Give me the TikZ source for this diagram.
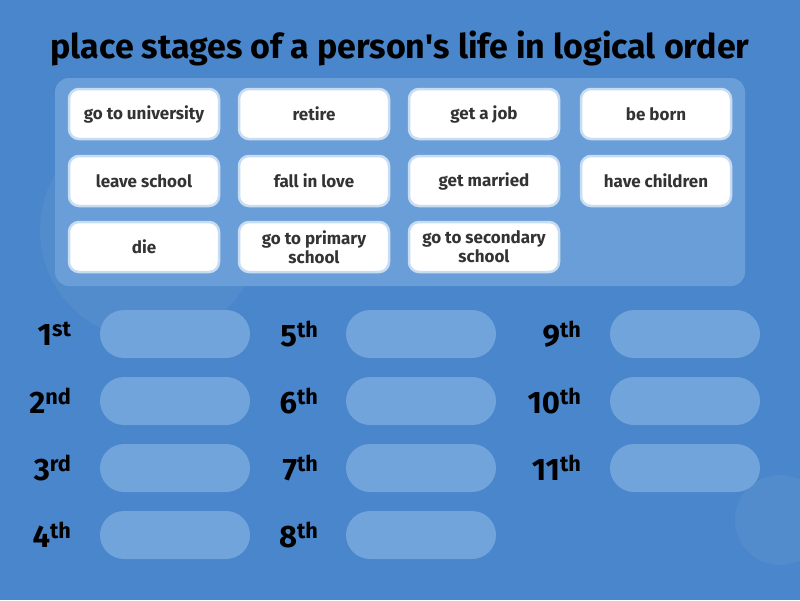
\documentclass[tikz,border=0pt]{standalone}
\usepackage{fontspec}
\setmainfont{Fira Sans}
\definecolor{bg}{HTML}{4A86CB}
\definecolor{panel}{HTML}{6A9ED9}
\definecolor{slot}{HTML}{72A4DC}
\definecolor{cardedge}{HTML}{C9DDF2}
\definecolor{txt}{HTML}{333333}
\tikzset{
 card/.style={draw=cardedge, line width=2.5pt, fill=white, rounded corners=10pt, minimum width=150pt, minimum height=50pt, align=center, font=\fontsize{17}{19}\selectfont\bfseries, text=txt},
 slotbox/.style={fill=slot, rounded corners=24pt, minimum width=150pt, minimum height=48pt},
 num/.style={anchor=east, font=\fontsize{31}{33}\selectfont\bfseries, text=black}
}
\begin{document}
\begin{tikzpicture}[x=1pt,y=-1pt]
\fill[bg] (0,0) rectangle (800,600);
\useasboundingbox (0,0) rectangle (800,600);
\fill[white,opacity=0.05] (150,230) circle (110);
\fill[white,opacity=0.05] (780,520) circle (45);
\node[font=\fontsize{34}{36}\selectfont\bfseries, text=black] (title) at (400,48) {place stages of a person\textquotesingle s life in logical order};
\fill[panel, rounded corners=14pt] (55,78) rectangle (745,286);
\node[card] (c1) at (144,114) {go to university};
\node[card] (c2) at (314,114) {retire};
\node[card] (c3) at (484,114) {get a job};
\node[card] (c4) at (656,114) {be born};
\node[card] (c5) at (144,181) {leave school};
\node[card] (c6) at (314,181) {fall in love};
\node[card] (c7) at (484,181) {get married};
\node[card] (c8) at (656,181) {have children};
\node[card] (c9) at (144,247) {die};
\node[card] (c10) at (314,247) {go to primary\\school};
\node[card] (c11) at (484,247) {go to secondary\\school};
\foreach \x/\lx/\a/\b/\c/\d/\sa/\sb/\sc/\sd in {175/75/1/2/3/4/st/nd/rd/th, 421/322/5/6/7/8/th/th/th/th}{
 \foreach \n/\s/\y in {\a/\sa/334,\b/\sb/401,\c/\sc/468,\d/\sd/535}{
  \node[slotbox] (s\n) at (\x,\y) {};
  \node[num] (n\n) at (\lx,\y) {\n\textsuperscript{\s}};
 }}
\foreach \n/\y in {9/334,10/401,11/468}{
  \node[slotbox] (s\n) at (685,\y) {};
  \node[num] (n\n) at (585,\y) {\n\textsuperscript{th}};
}
\end{tikzpicture}
\end{document}
